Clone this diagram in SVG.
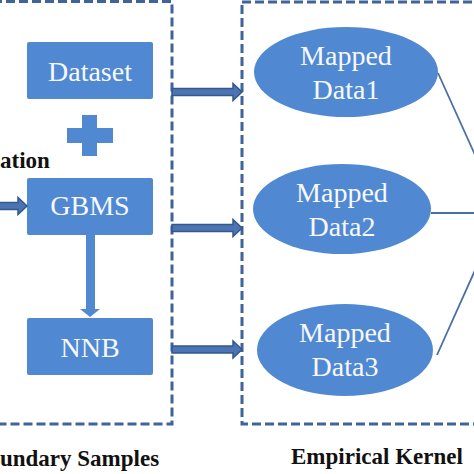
<svg xmlns="http://www.w3.org/2000/svg" width="474" height="474" viewBox="0 0 474 474">
<style>
.frame{fill:none;stroke:#40639a;stroke-width:3;stroke-dasharray:9 4}
.box{fill:#5089d2}
.ell{fill:#5089d2}
.nt{font-size:28px;fill:#f6f8fc;text-anchor:middle}
.lab{font-size:23px;font-weight:bold;fill:#111}
.barrow{fill:#4a74b3;stroke:#34578c;stroke-width:1.5;stroke-linejoin:miter}
.ln{stroke:#4a6ea6;stroke-width:1.8;fill:none}
</style>
<rect width="474" height="474" fill="#ffffff"/>
<g id="frames">
<rect class="frame" x="-20" y="1.5" width="192" height="422.5"/>
<rect class="frame" x="242" y="2" width="260" height="422"/>
</g>
<g id="labels" font-family="Liberation Serif, Tinos, Times New Roman, serif">
<text class="lab" x="0" y="168" font-size="22">ation</text>
<text class="lab" x="0" y="466">undary Samples</text>
<text class="lab" x="291" y="464">Empirical Kernel</text>
</g>
<g id="node-dataset">
<rect class="box" x="27" y="42" width="126" height="57" rx="2"/>
<text class="nt" x="90" y="81" font-family="Liberation Serif, Tinos, Times New Roman, serif">Dataset</text>
</g>
<g id="plus">
<rect class="box" x="82" y="115" width="15" height="41"/>
<rect class="box" x="67" y="128" width="46" height="15"/>
</g>
<g id="node-gbms">
<rect class="box" x="27" y="178" width="126" height="57" rx="2"/>
<text class="nt" x="90" y="215" font-family="Liberation Serif, Tinos, Times New Roman, serif">GBMS</text>
</g>
<g id="node-nnb">
<rect class="box" x="27" y="318" width="126" height="57" rx="2"/>
<text class="nt" x="90" y="357" font-family="Liberation Serif, Tinos, Times New Roman, serif">NNB</text>
</g>
<g id="node-mapped1" font-family="Liberation Serif, Tinos, Times New Roman, serif">
<ellipse class="ell" cx="346" cy="72" rx="92" ry="45"/>
<text class="nt" x="346" y="65">Mapped</text>
<text class="nt" x="346" y="99">Data1</text>
</g>
<g id="node-mapped2" font-family="Liberation Serif, Tinos, Times New Roman, serif">
<ellipse class="ell" cx="342" cy="209" rx="89" ry="45"/>
<text class="nt" x="342" y="202">Mapped</text>
<text class="nt" x="342" y="236">Data2</text>
</g>
<g id="node-mapped3" font-family="Liberation Serif, Tinos, Times New Roman, serif">
<ellipse class="ell" cx="345" cy="350" rx="88" ry="46"/>
<text class="nt" x="345" y="342">Mapped</text>
<text class="nt" x="345" y="376">Data3</text>
</g>
<g id="connectors">
<path class="barrow" d="M-3,202.5 H18 V197.5 L27,206 L18,214.5 V209.5 H-3 Z"/>
<path class="box" d="M86,235 H95 V309 H100 L90,317 L80,309 H86 Z"/>
<path class="barrow" d="M172,88.5 H233 V83.5 L242,92 L233,100.5 V95.5 H172 Z"/>
<path class="barrow" d="M172,224.5 H233 V219.5 L242,228 L233,236.5 V231.5 H172 Z"/>
<path class="barrow" d="M172,346 H233 V341 L242,349.5 L233,358 V353 H172 Z"/>
<line class="ln" x1="438" y1="73" x2="476" y2="157"/>
<line class="ln" x1="431" y1="213" x2="476" y2="213"/>
<line class="ln" x1="437" y1="355" x2="476" y2="268"/>
</g>
</svg>
